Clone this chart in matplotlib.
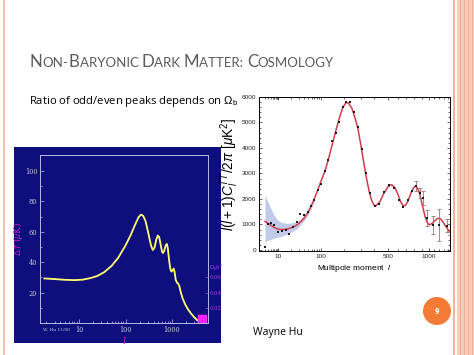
"""Slide: non-baryonic dark matter, CMB power spectrum comparison."""

import numpy as np
import matplotlib

matplotlib.use("Agg", force=True)
import matplotlib.pyplot as plt
from matplotlib.patches import Circle, Rectangle
from matplotlib.ticker import FixedLocator, NullFormatter

W, H = 474, 355

# left panel (W. Hu animation frame): multipole l vs Delta T in muK
hu_l = [1.8, 3, 5, 8, 12, 18, 25, 35, 50, 70, 100, 130, 160, 190, 215, 240,
        270, 310, 350, 385, 420, 460, 495, 530, 570, 610, 640, 680, 730, 770,
        810, 860, 920, 970, 1020, 1080, 1130, 1200, 1280, 1350, 1430, 1550,
        1700, 1900, 2200, 2600, 3000, 3500, 4000, 4600]
hu_dt = [29.3, 28.9, 28.4, 28.2, 28.5, 29.6, 31.0, 33.5, 37.5, 43.0, 51.0,
         58.0, 64.5, 69.5, 71.3, 70.5, 67.0, 59.0, 51.5, 48.0, 49.5, 55.0,
         57.5, 56.5, 51.5, 47.0, 46.0, 47.5, 51.0, 52.0, 49.5, 42.0, 35.5,
         33.8, 34.5, 35.8, 34.0, 28.5, 26.5, 26.0, 24.5, 20.0, 16.0, 12.5,
         9.0, 6.0, 3.8, 1.8, 0.6, 0.1]
hu_yticks = [20, 40, 60, 80, 100]
hu_xticks = [10, 100, 1000]
omega_ticks = [0.02, 0.04, 0.06]
slider_l, slider_y = [4400], [2.8]

# right panel: measured band powers and best-fit model
pts_l = [2, 3, 4, 6, 9, 12, 15, 18, 22, 27, 32, 40, 49, 57, 68, 85, 100,
         113, 125, 141, 156, 172, 193, 213, 235, 257, 279, 307, 336, 367,
         407, 434, 472, 513, 560, 611, 667, 719, 771]
pts_v = [130, 1020, 1075, 970, 710, 760, 790, 630, 890, 1100, 1430, 1365,
         1500, 1730, 1955, 2350, 2600, 3110, 3530, 4280, 4580, 5010, 5590,
         5800, 5800, 5430, 4840, 3950, 3020, 2240, 1720, 1800, 2280, 2545,
         2415, 1955, 1690, 1955, 2310]
err_l = [826, 877, 921, 977, 1079, 1200, 1380]
err_v = [2520, 2240, 2040, 1250, 980, 980, 950]
err_e = [200, 200, 260, 300, 350, 620, 250]

model_l = [2, 3, 4, 6, 9, 12, 16, 20, 26, 32, 40, 48, 57, 68, 85, 100, 113,
           125, 141, 156, 172, 193, 213, 228, 245, 260, 279, 300, 320, 340,
           360, 380, 400, 415, 440, 470, 500, 535, 570, 600, 630, 660, 690,
           720, 760, 800, 830, 860, 890, 920, 950, 980, 1010, 1050, 1100,
           1150, 1200, 1260, 1330, 1400, 1450]
model_v = [1120, 1040, 970, 880, 820, 800, 820, 870, 960, 1080, 1250, 1450,
           1680, 1960, 2380, 2700, 3100, 3550, 4150, 4650, 5120, 5580, 5780,
           5760, 5560, 5250, 4800, 4100, 3400, 2800, 2300, 1950, 1760, 1730,
           1870, 2230, 2480, 2560, 2440, 2200, 1920, 1740, 1740, 1900, 2230,
           2460, 2500, 2330, 1980, 1600, 1250, 1050, 990, 1030, 1130, 1220,
           1250, 1160, 960, 800, 700]

band_l = [2, 3, 4, 6, 9, 12, 16, 20, 26, 32, 40, 50, 60, 70]
band_lo = [320, 390, 420, 460, 500, 540, 620, 690, 810, 960, 1150, 1380,
           1640, 1920]
band_hi = [2150, 1840, 1620, 1360, 1170, 1080, 1040, 1060, 1110, 1200, 1350,
           1540, 1780, 2040]

cmb_yticks = [0, 1000, 2000, 3000, 4000, 5000, 6000]
cmb_xticks = [10, 100, 500, 1000]
cmb_minor = [2, 3, 4, 5, 6, 7, 8, 9, 20, 30, 40, 50, 60, 70, 80, 90, 200,
             300, 400, 600, 700, 800, 900, 1100, 1200, 1300, 1400]

# knots of the hybrid multipole axis used by the right panel
SCALE_L = [1, 2, 10, 100, 220, 410, 500, 675, 815, 1000, 1450]
SCALE_PX = [259, 265, 278.5, 321, 347, 375, 388, 404, 415, 429, 450]


def _fwd(l):
    l = np.clip(np.asarray(l, dtype=float), 1e-3, None)
    return np.interp(np.log10(l), np.log10(SCALE_L), SCALE_PX)


def _inv(p):
    return 10 ** np.interp(np.asarray(p, dtype=float), SCALE_PX, np.log10(SCALE_L))


def px_rect(x0, y0, x1, y1):
    return [x0 / W, 1 - y1 / H, (x1 - x0) / W, (y1 - y0) / H]


plt.rcParams["mathtext.fontset"] = "custom"
plt.rcParams["mathtext.rm"] = "Liberation Sans"
plt.rcParams["mathtext.it"] = "Liberation Sans:italic"

fig = plt.figure(figsize=(W / 100, H / 100), dpi=100)
fig.patch.set_facecolor("white")

# slide background: borders, title, captions, page badge
bg = fig.add_axes([0, 0, 1, 1])
bg.set_xlim(0, W)
bg.set_ylim(H, 0)
bg.axis("off")
bg.add_patch(Rectangle((3.5, 0), 2, H, color="#f6c3b0", lw=0))
bg.add_patch(Rectangle((453, 0), 2.2, H, color="#f4b39c", lw=0))
bg.add_patch(Rectangle((457, 0), 17, H, color="#f9cbbb", lw=0))
for xs in [460, 464, 468, 472]:
    bg.add_patch(Rectangle((xs, 0), 1.2, H, color="#f3ae98", lw=0))
bg.add_patch(Rectangle((14, 147), 207, 196, color="#0e0e7c", lw=0))
bg.add_patch(Circle((437, 311), 14, color="#f47b35", lw=0))
bg.text(437, 311, "9", color="white", fontsize=5.5, fontweight="bold",
        ha="center", va="center", family="Open Sans")

title_parts = [("N", True), ("ON-", False), ("B", True), ("ARYONIC ", False),
               ("D", True), ("ARK ", False), ("M", True), ("ATTER: ", False),
               ("C", True), ("OSMOLOGY", False)]
prev = None
for part, big in title_parts:
    size = 12.2 if big else 9.5
    kw = dict(fontsize=size, color="#5b5b5b", family="Lato", va="baseline", ha="left")
    if prev is None:
        prev = bg.annotate(part, xy=(30, 67), xycoords="data", **kw)
    else:
        prev = bg.annotate(part.replace(" ", "\u00a0"), xy=(1, 67),
                           xycoords=(prev, "data"), **kw)

bg.text(29, 104, r"Ratio of odd/even peaks depends on $\Omega_{\rm b}$",
        fontsize=8.1, color="black", family="Open Sans", va="baseline")
bg.text(253, 335, "Wayne Hu", fontsize=7.5, color="black", family="Open Sans",
        va="baseline")

# left panel
ax1 = fig.add_axes(px_rect(40, 155, 208, 323))
ax1.set_facecolor("#0e0e7c")
ax1.plot(hu_l, hu_dt, color="#ffff70", lw=1.3)
ax1.plot(slider_l, slider_y, "s", color="#ff22ff", ms=5.5)
ax1.set_xscale("log")
ax1.set_xlim(1.45, 5940)
ax1.set_ylim(0, 110.5)
ax1.set_yticks(hu_yticks)
ax1.set_xticks(hu_xticks, [str(v) for v in hu_xticks])
ax1.yaxis.set_minor_locator(FixedLocator(np.arange(10, 110, 10)))
for sp in ax1.spines.values():
    sp.set_color("#b8b8e8")
    sp.set_linewidth(0.7)
ax1.tick_params(which="both", direction="in", colors="#b8b8e8", labelcolor="#c8c8dc",
                labelsize=4.8, pad=2, width=0.5)
ax1.tick_params(which="major", length=3)
ax1.tick_params(which="minor", length=1.5)
for lab in ax1.get_xticklabels() + ax1.get_yticklabels():
    lab.set_family("DejaVu Serif")
ax1.set_ylabel(r"$\Delta T$ ($\mu$K)", color="#c822c8", fontsize=6.5,
               family="DejaVu Serif", labelpad=0)
ax1.set_xlabel("l", color="#c822c8", fontsize=7, style="italic",
               family="DejaVu Serif", labelpad=2)
ax1.text(0.02, -0.03, "W. Hu 11/00", transform=ax1.transAxes, fontsize=3.2,
         color="#c8c8dc", family="DejaVu Serif", va="top")
sec = ax1.secondary_yaxis("right", functions=(lambda y: y * 0.002, lambda y: y / 0.002))
sec.set_yticks(omega_ticks, [f"{v:.2f}" for v in omega_ticks])
sec.spines["right"].set_visible(False)
sec.tick_params(direction="in", colors="#b040e0", labelsize=3.8, length=2.5, width=0.5, pad=1)
for lab in sec.get_yticklabels():
    lab.set_family("DejaVu Serif")
ax1.text(1.005, 0.33, r"$\Omega_B h^2$", transform=ax1.transAxes, fontsize=4,
         color="#b040e0", va="center", ha="left")

# right panel
ax2 = fig.add_axes(px_rect(259, 97, 450, 251))
ax2.set_xscale("function", functions=(_fwd, _inv))
ax2.fill_between(band_l, band_lo, band_hi, color="#b7c1e4", alpha=0.85, lw=0)
ax2.plot(model_l, model_v, color="#d23c4c", lw=1.1)
ax2.errorbar(err_l, err_v, yerr=err_e, fmt="none", ecolor="#a07070", elinewidth=0.6,
             capsize=1.2, capthick=0.6)
ax2.plot(pts_l + err_l, pts_v + err_v, "s", color="#1a1a1a", ms=1.9, mew=0)
ax2.set_xlim(1, 1450)
ax2.set_ylim(-40, 6000)
ax2.set_xticks(cmb_xticks, [str(v) for v in cmb_xticks])
ax2.xaxis.set_minor_locator(FixedLocator(cmb_minor))
ax2.xaxis.set_minor_formatter(NullFormatter())
ax2.set_yticks(cmb_yticks, [str(v) for v in cmb_yticks])
ax2.yaxis.set_minor_locator(FixedLocator(np.arange(0, 6001, 200)))
ax2.tick_params(which="both", direction="in", top=True, right=True, width=0.5,
                labelsize=4.6, pad=2, colors="#222222")
ax2.tick_params(which="major", length=2.5)
ax2.tick_params(which="minor", length=1.3)
for lab in ax2.get_xticklabels() + ax2.get_yticklabels():
    lab.set_family("Liberation Sans")
for sp in ax2.spines.values():
    sp.set_linewidth(0.7)
ax2.set_xlabel(r"Multipole moment  $l$", fontsize=6.0, family="Liberation Sans",
               labelpad=3)
ax2.set_ylabel(r"$l(l+1)C_l^{TT}/2\pi\ [\mu\mathrm{K}^2]$", fontsize=9.8,
               family="Liberation Sans", labelpad=0.5)

fig.savefig("out.png", dpi=100)
